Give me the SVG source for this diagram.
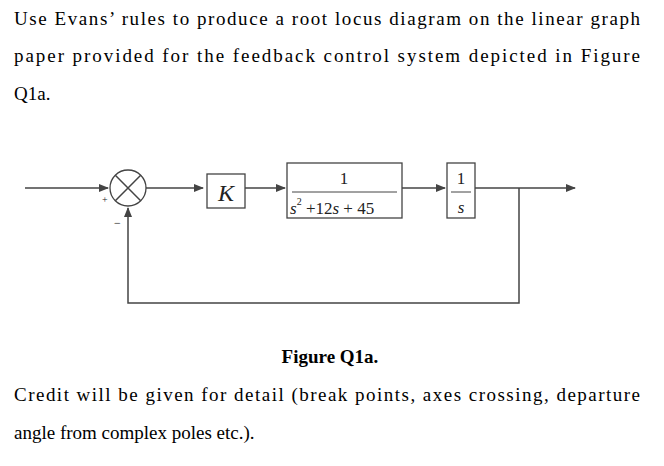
<svg xmlns="http://www.w3.org/2000/svg" width="664" height="466" viewBox="0 0 664 466">
<defs>
<marker id="ah" markerWidth="10" markerHeight="8" refX="9" refY="4" orient="auto" markerUnits="userSpaceOnUse"><path d="M0,0 L10,4 L0,8 Z" fill="#444"/></marker>
<style>
.t{font-family:"Liberation Serif","DejaVu Serif",serif;font-size:19px;fill:#000}
.m{font-family:"Liberation Serif",serif;fill:#222}
.b{fill:#fff;stroke:#444;stroke-width:1.3}
.l{stroke:#444;stroke-width:1.5;fill:none}
</style>
</defs>
<rect width="664" height="466" fill="#fff"/>
<text class="t" x="14" y="25" textLength="626" lengthAdjust="spacing">Use Evans’ rules to produce a root locus diagram on the linear graph</text>
<text class="t" x="14" y="62" textLength="626" lengthAdjust="spacing">paper provided for the feedback control system depicted in Figure</text>
<text class="t" x="14" y="100">Q1a.</text>
<g id="connectors">
<path class="l" d="M25,188 H108" marker-end="url(#ah)"/>
<path class="l" d="M146,188 H203" marker-end="url(#ah)"/>
<path class="l" d="M245,188 H285" marker-end="url(#ah)"/>
<path class="l" d="M402,188 H445" marker-end="url(#ah)"/>
<path class="l" d="M475,188 H575" marker-end="url(#ah)"/>
<path class="l" d="M519,188 V303 H128 V208" marker-end="url(#ah)"/>
</g>
<g id="sum">
<circle class="b" cx="128" cy="188" r="18"/>
<path class="l" d="M115.3,175.3 L140.7,200.7 M140.7,175.3 L115.3,200.7"/>
<text class="m" x="102" y="203" font-size="10" fill="#a33">+</text>
<text class="m" x="114" y="227" font-size="12">−</text>
</g>
<g id="K"><rect class="b" x="207" y="174" width="38" height="34"/><text class="m" x="226" y="201" font-size="24" font-style="italic" text-anchor="middle">K</text></g>
<g id="G"><rect class="b" x="287" y="163" width="115" height="55"/><text class="m" x="344" y="184" font-size="17" text-anchor="middle">1</text><line x1="292" y1="192" x2="397" y2="192" stroke="#444" stroke-width="1"/><text class="m" x="290" y="214" font-size="17"><tspan font-style="italic">s</tspan><tspan font-size="10" dy="-9">2</tspan><tspan dy="9"> +12</tspan><tspan font-style="italic">s</tspan><tspan> + 45</tspan></text></g>
<g id="I"><rect class="b" x="447" y="163" width="28" height="55"/><text class="m" x="461" y="184" font-size="17" text-anchor="middle">1</text><line x1="451" y1="192" x2="471" y2="192" stroke="#444" stroke-width="1"/><text class="m" x="461" y="213" font-size="17" font-style="italic" text-anchor="middle">s</text></g>
<text class="t" x="330" y="363" font-weight="bold" text-anchor="middle">Figure Q1a.</text>
<text class="t" x="14" y="401" textLength="626" lengthAdjust="spacing">Credit will be given for detail (break points, axes crossing, departure</text>
<text class="t" x="14" y="439">angle from complex poles etc.).</text>
</svg>
